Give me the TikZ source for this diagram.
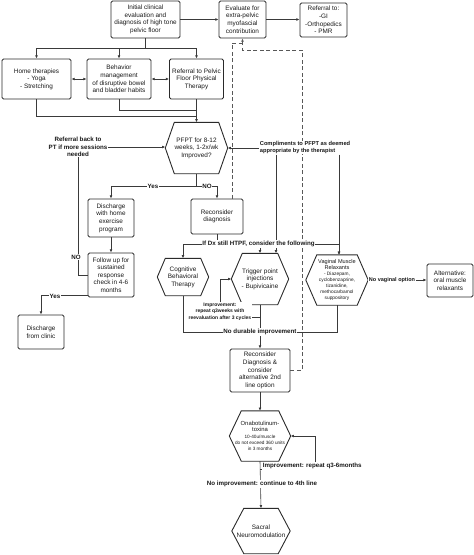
\documentclass[tikz,border=0pt]{standalone}
\usepackage{fontspec}
\setmainfont{Liberation Sans}
\usetikzlibrary{arrows.meta,calc}
\definecolor{bd}{HTML}{2A2A2A}
\definecolor{ln}{HTML}{3A3A3A}
\newcommand\bxf{\fontsize{6.4}{7.6}\selectfont}
\newcommand\lbf{\bfseries\fontsize{6.2}{7.3}\selectfont}
\newcommand\vhd{\fontsize{5.6}{6.4}\selectfont}
\newcommand\vsm{\fontsize{4.8}{6.1}\selectfont}
\newcommand\ohd{\fontsize{5.9}{6.6}\selectfont}
\newcommand\osm{\fontsize{4.7}{6.4}\selectfont}
\newcommand\hexd[2]{\draw[hexline] (#1.west) -- ([xshift=#2]#1.north west) -- ([xshift=-#2]#1.north east) -- (#1.east) -- ([xshift=-#2]#1.south east) -- ([xshift=#2]#1.south west) -- cycle;}
\begin{document}
\begin{tikzpicture}[x=1pt,y=-1pt,
  box/.style={draw=bd, line width=0.9pt, rounded corners=1.5pt, align=center, inner sep=0pt, font=\bxf, text=black!90},
  hexn/.style={align=center, inner sep=0pt, font=\bxf, text=black!90},
  hexline/.style={draw=bd, line width=0.9pt},
  lbl/.style={font=\lbf, fill=white, inner sep=0.7pt, align=center, text=black!90},
  line/.style={draw=ln, line width=0.6pt},
  arr/.style={line, -{Latex[length=3.2pt,width=2.8pt]}},
  darr/.style={line, {Latex[length=3.2pt,width=2.8pt]}-{Latex[length=3.2pt,width=2.8pt]}},
  dsh/.style={draw=ln!85, line width=0.8pt, dash pattern=on 4pt off 2.5pt}
]
\useasboundingbox (0,0) rectangle (474,555);

% ---------- boxes ----------
\node[box,minimum width=69pt,minimum height=37pt] (init) at (145.5,19.5) {Initial clinical\\evaluation and\\diagnosis of high tone\\pelvic floor};
\node[box,minimum width=47pt,minimum height=37pt] (eval) at (242.5,19.5) {Evaluate for\\extra-pelvic\\myofascial\\contribution};
\node[box,minimum width=47pt,minimum height=34pt] (ref) at (323.5,20) {Referral to:\\-GI\\-Orthopedics\\- PMR};
\node[box,minimum width=69pt,minimum height=40pt] (home) at (36.5,79) {Home therapies\\- Yoga\\- Stretching};
\node[box,minimum width=64pt,minimum height=40pt] (beh) at (119,79) {Behavior\\management\\of disruptive bowel\\and bladder habits};
\node[box,minimum width=54pt,minimum height=40pt] (rpt) at (196.5,79) {Referral to Pelvic\\Floor Physical\\Therapy};
\node[box,minimum width=46pt,minimum height=38pt] (dhe) at (111,218) {Discharge\\with home\\exercise\\program};
\node[box,minimum width=46pt,minimum height=44pt] (fu) at (111,275) {Follow up for\\sustained\\response\\check in 4-6\\months};
\node[box,minimum width=46pt,minimum height=34pt] (dc) at (41,332) {Discharge\\from clinic};
\node[box,minimum width=52pt,minimum height=35pt] (rd) at (217,216.5) {Reconsider\\diagnosis};
\node[box,minimum width=46pt,minimum height=33pt] (alt) at (450,280.5) {Alternative:\\oral muscle\\relaxants};
\node[box,minimum width=60pt,minimum height=43pt] (r2) at (260,370.5) {Reconsider\\Diagnosis \&\\consider\\alternative 2nd\\line option};

% ---------- hexagons ----------
\node[hexn,minimum width=62pt,minimum height=51pt] (pf) at (196.5,148) {PFPT for 8-12\\weeks, 1-2x/wk\\Improved?};
\node[hexn,minimum width=51pt,minimum height=37pt] (cbt) at (183,277) {Cognitive\\Behavioral\\Therapy};
\node[hexn,minimum width=57pt,minimum height=51pt] (tp) at (260,279) {Trigger point\\injections\\- Bupivicaine};
\node[hexn,font=\vsm,minimum width=62pt,minimum height=50pt] (vmr) at (337,280) {\vhd Vaginal Muscle\\\vhd Relaxants\\\vsm - Diazepam,\\\vsm cyclobenzaprine,\\\vsm tizanidine,\\\vsm methocarbamol\\\vsm suppository};
\node[hexn,font=\osm,minimum width=61pt,minimum height=50pt] (ona) at (260,436) {\ohd Onabotulinum-\\\ohd toxina\\\osm 10-40u/muscle\\\osm do not exceed 360 units\\\osm in 3 months};
\node[hexn,minimum width=58pt,minimum height=45pt] (snm) at (261,531) {Sacral\\Neuromodulation};
\hexd{pf}{9pt}
\hexd{cbt}{8pt}
\hexd{tp}{11pt}
\hexd{vmr}{11pt}
\hexd{ona}{12pt}
\hexd{snm}{12pt}

% ---------- label nodes (positions) ----------
\node[lbl] (rb) at (78,147) {Referral back to\\PT if more sessions\\needed};
\node[lbl,align=left,anchor=west,font=\bfseries\fontsize{5.7}{7}\selectfont] (cp) at (259,147.5) {Compliments to PFPT as deemed\\appropriate by the therapist};
\node[lbl,font=\bfseries\fontsize{5}{6.3}\selectfont] (imp) at (220,311.5) {Improvement:\\repeat q3weeks with\\reevaluation after 3 cycles};
\node[lbl,anchor=west] (imp2) at (262,466) {Improvement: repeat q3-6months};

% ---------- connectors ----------
\draw[arr] (init.east) -- (eval.west);
\draw[arr] (eval.east) -- (eval.east -| ref.west);
\coordinate (j1) at (145.5,48);
\draw[line] (init.south) -- (j1);
\draw[arr] (j1) -| (home.north);
\draw[arr] (j1) -| (beh.north);
\draw[arr] (j1) -| (rpt.north);
\draw[darr] (home.east) -- (beh.west);
\draw[darr] (beh.east) -- (rpt.west);
\draw[line] (home.south) |- (196.5,116);
\draw[line] (beh.south) |- (196.5,110);
\draw[arr] (rpt.south) -- (pf.north);

\draw[arr] (rb.east) -- (rb.east -| pf.west);
\draw[line] (fu.west) -| (rb.south);

\coordinate (j3) at (196.5,186);
\draw[line] (pf.south) -- (j3);
\draw[arr] (j3) -| (dhe.north);
\draw[arr] (j3) -| (rd.north);
\draw[arr] (dhe.south) -- (fu.north);
\draw[arr] ([yshift=2pt]fu.south west) -| (dc.north);

% dashed
\coordinate (d1) at (232,43);
\draw[dsh] (rd.north -| d1) -- (d1) -- (242.5,43);
\draw[dsh,-{Latex[length=3.2pt,width=2.8pt]}] (r2.east) -| (302,50) -| (eval.south);

% compliments
\draw[arr] (cp.west |- pf.east) -- (pf.east);
\coordinate (t1) at ([xshift=16pt]tp.north);
\coordinate (v1) at ([xshift=2pt]vmr.north);
\draw[arr] (t1 |- cp.south) -- (t1);
\draw[arr] (v1 |- cp.south) -- (v1);

% if Dx
\coordinate (j4) at (217,244);
\draw[line] (rd.south) -- (j4);
\draw[arr] (j4) -| (cbt.north);
\draw[arr] (j4) -| (v1);
\draw[arr] (tp.north |- j4) -- (tp.north);

% no durable improvement
\coordinate (j5) at (260,332);
\draw[line] (cbt.south) |- (j5);
\draw[line] (vmr.south) |- (j5);
\draw[line] (tp.south) -- (j5);
\draw[arr] (j5) -- (r2.north);
\coordinate (j6) at (260,317);
\draw[line] (j6) -- (j6 -| imp.east);
\draw[arr] (imp.north) |- (tp.west);

\draw[arr] (vmr.east) -- (vmr.east -| alt.west);

\draw[arr] (r2.south) -- (ona.north);
\draw[arr] (ona.south) -- (snm.north);
\draw[line] (ona.south |- imp2.south west) -- (imp2.south west);
\coordinate (k1) at (315,466);
\draw[arr] (k1 |- imp2.north) |- (ona.east);

% ---------- labels on lines ----------
\node[lbl] at (76,257) {NO};
\node[lbl] at (153,186) {Yes};
\node[lbl] at (207,186) {NO};
\node[lbl] at (55,296) {Yes};
\node[lbl] at (258.5,244) {If Dx still HTPF, consider the following};
\node[lbl] at (260,332) {No durable improvement};
\node[lbl,font=\bfseries\fontsize{5.5}{6.5}\selectfont] at (392,280) {No vaginal option};
\node[lbl] at (262,484) {No improvement: continue to 4th line};
% redraw label that covers the dashed line
\node[lbl,align=left,anchor=west,font=\bfseries\fontsize{5.7}{7}\selectfont] at (259,147.5) {Compliments to PFPT as deemed\\appropriate by the therapist};
\end{tikzpicture}
\end{document}
